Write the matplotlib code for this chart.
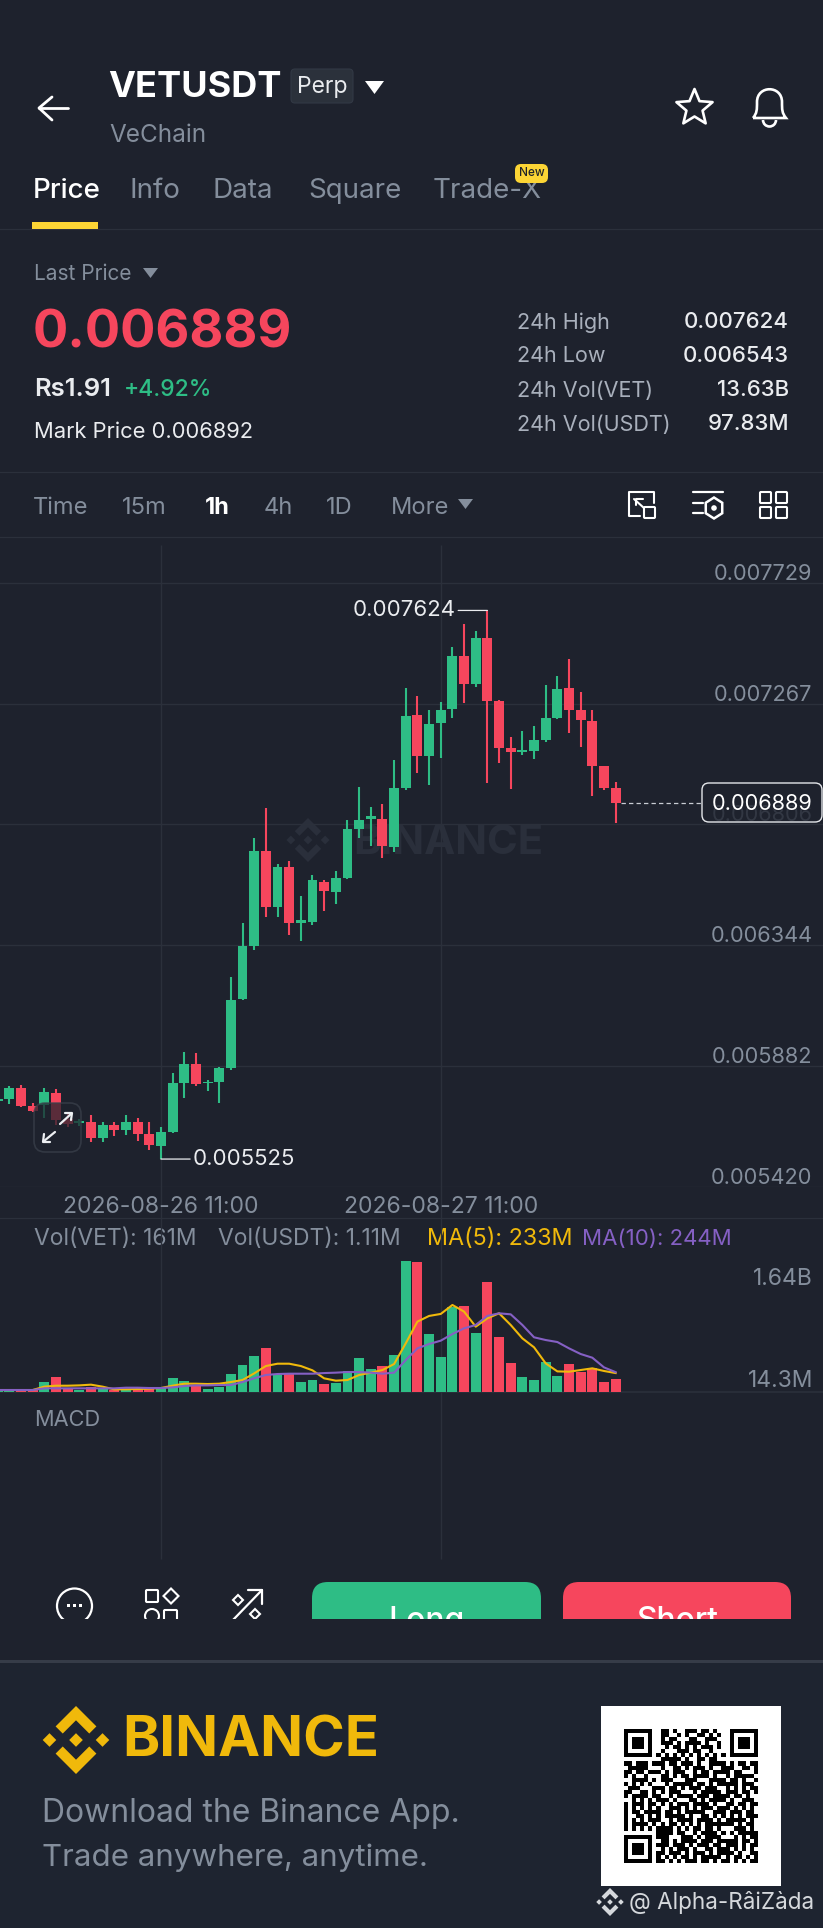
import numpy as np
import matplotlib
matplotlib.use("Agg")
import matplotlib.pyplot as plt
from matplotlib.patches import FancyBboxPatch, Polygon, Rectangle, Circle, Arc, PathPatch
from matplotlib.path import Path
from matplotlib.transforms import ScaledTranslation

plt.rcParams['font.family'] = ['Inter', 'DejaVu Sans']

# ---------- data (prices in millionths of USDT, volumes in millions of VET) ----------
opens = [5748,5753,5796,5728,5732,5779,5680,5662,5668,5606,5656,5635,5665,5621,5575,5628,5815,5887,5815,5821,5874,
         6137,6341,6702,6490,6641,6430,6433,6586,6546,6602,6789,6827,6827,6718,6946,7223,7067,7192,7248,7450,7343,
         7520,7279,7099,7081,7085,7127,7214,7326,7244,7201,7029,6945]
highs = [5763,5806,5809,5740,5796,5793,5700,5678,5693,5665,5665,5693,5681,5668,5646,5853,5934,5931,5826,5876,6221,
         6430,6755,6868,6652,6665,6530,6611,6593,6627,6821,6949,6871,6883,7052,7328,7298,7243,7275,7485,7572,7545,
         7624,7281,7141,7164,7183,7340,7374,7438,7312,7243,7029,6968]
lows = [5740,5737,5726,5706,5681,5654,5648,5653,5592,5592,5612,5618,5593,5559,5525,5625,5759,5806,5787,5740,5865,
        6134,6323,6452,6451,6383,6358,6421,6474,6502,6596,6752,6721,6677,6699,6936,7001,6955,7059,7212,7269,7330,
        6963,7042,6942,7071,7057,7122,7207,7154,7103,6914,6937,6812]
closes = [5756,5796,5729,5709,5782,5674,5660,5671,5606,5656,5637,5665,5621,5578,5628,5815,5887,5812,5820,5874,6135,
          6341,6705,6490,6643,6430,6438,6591,6549,6599,6789,6824,6836,6721,6946,7222,7067,7190,7244,7450,7341,7520,
          7278,7099,7084,7089,7127,7214,7323,7243,7204,7029,6945,6889]
volumes = [10,17,17,15,121,183,46,17,62,29,17,29,29,37,41,171,133,75,33,54,221,329,450,550,208,217,121,146,96,108,
           263,421,288,321,459,1640,1626,717,434,1063,1076,734,1376,680,359,179,146,375,196,346,250,300,117,158]
ma5 = [21,21,21,21,63,75,75,79,88,63,29,29,33,38,46,75,100,100,96,100,121,146,229,321,350,350,321,267,167,138,146,
       209,238,271,346,605,876,947,972,1084,1001,813,917,980,834,667,555,354,254,250,271,292,259,233]
ma10 = [21,21,21,21,42,42,42,42,42,42,42,50,50,46,46,54,71,79,79,83,83,121,167,209,221,225,225,225,233,238,246,246,
        238,225,238,396,542,596,638,721,792,834,947,980,967,834,680,646,621,542,471,425,304,244]
price_levels = [0.007729, 0.007267, 0.006806, 0.006344, 0.005882, 0.005420]
date_labels = ['2026-08-26 11:00', '2026-08-27 11:00']
date_index = [14, 38]
tabs = ['Price', 'Info', 'Data', 'Square', 'Trade-X']
intervals = ['Time', '15m', '1h', '4h', '1D', 'More']
stat_labels = ['24h High', '24h Low', '24h Vol(VET)', '24h Vol(USDT)']
stat_values = ['0.007624', '0.006543', '13.63B', '97.83M']
qr_rows = [
 "#######..##.#..###.##.#...#######",
 "#.....#..##..#.#..##.#.#..#.....#",
 "#.###.#..#.##...##..###...#.###.#",
 "#.###.#..###.#.####.#..#..#.###.#",
 "#.###.#...#.##.#.#.###.#..#.###.#",
 "#.....#..#...###.##..#....#.....#",
 "#######.#.#.#.#.#.#.#.#.#.#######",
 ".........#####.#..##.##..........",
 "##.###.###.##.###.#..####.#.##.##",
 ".#####...#..##.#.###.#..###..##.#",
 "##.##.###.#.###..#.##.####.##...#",
 "#.#..#...##.#.##.####.#..#.#####.",
 "..####.#.###...###...####.##.#..#",
 "#.#.#.#...#.#####.##.#.#####.###.",
 ".###...###.##.#.###.###..#.#.#.##",
 "##..##.#.#.###...#.#####.###.##.#",
 "#.####.##..#.####.###.####.##.#..",
 "..#.#.#.###.#...##.#.####.#..###.",
 "#.###.##.#.#.###.####.#..##.##.##",
 "#.#.#.#.#..###.#.#.###.###.#.#.#.",
 "#.##.####.##.#.#####..###.###.##.",
 "#..##.#.#.#####.#..##.#.#.#.#.###",
 "#.#.#.###..#.####.####.#.#####.#.",
 "#.####.#.#.##.#.#.#.#######.#.##.",
 "#.#.#.#.####.#.#.##.##.#...###.#.",
 "........####.##..#.####.#.#.#####",
 "#######.###...###.#.####...#.#.##",
 "#.....#..##.#.####.###.#####.##.#",
 "#.###.#.###.###.#.###.##.###.#.##",
 "#.###.#..#.#.###.#..##.###.#.#.#.",
 "#.###.#.##.###.#.###.#.####.#..##",
 "#.....#.#.#.#.##.#.#####.#.##.#.#",
 "#######.##.#.#.###.##.#.##.#.#.##",
]

# ---------- colours ----------
BG = '#1E222D'
FOOT = '#1E2430'
GRID = '#2B303B'
GREEN = '#2EBD85'
RED = '#F6465D'
GRAY = '#848E9C'
TXT = '#EAECEF'
YEL = '#FCD535'
GOLD = '#F0B90B'
PUR = '#8560C4'

W, H = 823, 1928
fig = plt.figure(figsize=(W/100, H/100), dpi=100, facecolor=BG)

def px_axes(top, bottom, z):
    return fig.add_axes([0, 1-bottom/H, 1, (bottom-top)/H], zorder=z)

# ---------- chrome axes in pixels ----------
ui = fig.add_axes([0, 0, 1, 1], zorder=0)
ui.set_xlim(0, W); ui.set_ylim(H, 0); ui.axis('off')
top = fig.add_axes([0, 0, 1, 1], zorder=5)
top.set_xlim(0, W); top.set_ylim(H, 0); top.axis('off'); top.patch.set_alpha(0)

def T(a, x, y, s, size, color=TXT, weight='normal', ha='left', va='center', z=3, **kw):
    return a.text(x, y+2.5, s, fontsize=size, color=color, fontweight=weight, ha=ha, va=va, zorder=z, **kw)

def rrect(a, x0, y0, x1, y1, r, fc='none', ec='none', lw=0, z=2, alpha=None):
    p = FancyBboxPatch((x0, y0), x1-x0, y1-y0, boxstyle=f"round,pad=0,rounding_size={r}",
                       fc=fc, ec=ec, lw=lw, zorder=z, alpha=alpha)
    a.add_patch(p)
    return p

def line(a, xs, ys, color=TXT, lw=1.5, z=3, **kw):
    a.plot(xs, ys, color=color, lw=lw, zorder=z, solid_capstyle=kw.pop('cap', 'round'), **kw)

def tri(a, x0, x1, y0, y1, color):
    a.add_patch(Polygon([(x0, y0), (x1, y0), ((x0+x1)/2, y1)], closed=True, fc=color, ec='none', zorder=3))

def diamond(a, cx, cy, rx, ry=None, **kw):
    ry = rx if ry is None else ry
    a.add_patch(Polygon([(cx, cy-ry), (cx+rx, cy), (cx, cy+ry), (cx-rx, cy)], closed=True, **kw))

def logo(a, cx, cy, r, color, z=2):
    diamond(a, cx, cy, .2*r, fc=color, ec='none', zorder=z)
    diamond(a, cx-.78*r, cy, .2*r, fc=color, ec='none', zorder=z)
    diamond(a, cx+.78*r, cy, .2*r, fc=color, ec='none', zorder=z)
    for s in (-1, 1):
        pts = [(0, 1), (.6, .4), (.39, .19), (0, .58), (-.39, .19), (-.6, .4)]
        a.add_patch(Polygon([(cx+px*r, cy+s*py*r) for px, py in pts], closed=True, fc=color, ec='none', zorder=z))

# footer background and separators
ui.add_patch(Rectangle((0, 1662), W, H-1662, fc=FOOT, ec='none', zorder=0))
ui.add_patch(Rectangle((0, 1660), W, 3, fc='#363C48', ec='none', zorder=1))
for yy in (229, 472, 537, 1218):
    ui.plot([0, W], [yy, yy], color=GRID, lw=0.9, zorder=1)

# header
line(ui, [39, 68], [108, 108], color='white', lw=2)
line(ui, [52, 39, 52], [97, 108, 120], color='white', lw=2)
T(ui, 108, 85, 'VETUSDT', 26, 'white', 'bold')
rrect(ui, 291, 69, 353, 103, 4, fc='#2B313B', ec='#323945', lw=0.8)
T(ui, 322, 85, 'Perp', 16.5, TXT, ha='center')
tri(ui, 365, 384, 81, 94, 'white')
T(ui, 109, 133, 'VeChain', 17.5, GRAY)
# star
ang = np.deg2rad(np.arange(0, 360, 36) - 90)
rad = np.where(np.arange(10) % 2 == 0, 19, 8.5)
ui.add_patch(Polygon(np.c_[694.5+rad*np.cos(ang), 108+rad*np.sin(ang)], closed=True, fc='none', ec='white', lw=1.9, zorder=3, joinstyle='round'))
# bell
bell = Path([(753, 118), (757, 113), (757, 110), (757, 102), (757, 85), (782, 85), (782, 102),
             (782, 110), (782, 113), (786, 118), (753, 118)],
            [Path.MOVETO, Path.CURVE4, Path.CURVE4, Path.CURVE4, Path.CURVE4, Path.CURVE4, Path.CURVE4,
             Path.CURVE4, Path.CURVE4, Path.CURVE4, Path.LINETO])
ui.add_patch(PathPatch(bell, fc='none', ec='white', lw=1.9, zorder=3))
ui.add_patch(Arc((769.5, 120), 13, 13, theta1=0, theta2=180, ec='white', lw=1.9, zorder=3))

# tabs
tab_x = [33, 130, 213, 308, 433]
for i, (s, x) in enumerate(zip(tabs, tab_x)):
    T(ui, x, 188, s, 20, 'white' if i == 0 else GRAY, '500' if i == 0 else 'normal')
ui.add_patch(Rectangle((32, 222), 66, 7, fc=YEL, ec='none', zorder=3))
rrect(ui, 515, 164, 548, 183, 6, fc=YEL, z=4)
T(ui, 531.5, 171, 'New', 8.5, '#1E2329', '500', ha='center', z=5)

# price block
T(ui, 34, 272, 'Last Price', 15, GRAY)
tri(ui, 143, 158, 268, 278, GRAY)
T(ui, 33, 331, '0.006889', 37.7, RED, 'bold')
T(ui, 34, 387, 'Rs1.91', 18.5, TXT, '600')
T(ui, 124, 387, '+4.92%', 16.5, GREEN, '500')
T(ui, 34, 430, 'Mark Price 0.006892', 15.8, TXT)
for i, yy in enumerate((320, 354, 388, 422)):
    T(ui, 517, yy, stat_labels[i], 15.5, '#A9B0BC')
    T(ui, 789, yy, stat_values[i], 16, TXT, '500', ha='right')

# interval row
int_x = [33, 122, 205, 264, 326, 391]
for s, x in zip(intervals, int_x):
    T(ui, x, 505, s, 17, 'white' if s == '1h' else GRAY, 'bold' if s == '1h' else 'normal')
tri(ui, 458, 473, 499, 509, GRAY)
# toolbar icons
line(ui, [640, 629, 629, 654, 654], [516, 516, 492, 492, 503], color='white', lw=1.5)
rrect(ui, 644, 507, 655, 518, 1, ec='white', lw=1.5, z=3)
line(ui, [634, 644], [499, 508], color='white', lw=1.5)
line(ui, [636, 636, 643], [505, 499, 499], color='white', lw=1.5)
line(ui, [693, 723], [492, 492], color='white', lw=1.6)
line(ui, [693, 703], [503, 503], color='white', lw=1.6)
line(ui, [693, 703], [513, 513], color='white', lw=1.6)
ang6 = np.deg2rad(np.arange(0, 360, 60) + 90)
ui.add_patch(Polygon(np.c_[714+9.5*np.cos(ang6), 508+10.5*np.sin(ang6)], closed=True, fc='none', ec='white', lw=1.8, zorder=3))
ui.add_patch(Circle((714, 508), 2.8, fc='white', ec='none', zorder=3))
for xx in (760, 776):
    for yy in (492, 507):
        rrect(ui, xx, yy, xx+11, yy+11, 1, ec='white', lw=1.5, z=3)

# watermark
logo(ui, 308, 840, 22, '#2A2F3B', z=1)
T(ui, 353, 840, 'BINANCE', 30, '#2A2F3B', 'bold', z=1)

# ---------- price chart ----------
PX_PER_IDX = 11.66
xlim = (2.33/PX_PER_IDX, (W+2.33)/PX_PER_IDX)
price_per_px = 3.826e-6
ax = px_axes(545, 1186.5, 1)
ax.patch.set_alpha(0)
ax.set_xlim(*xlim)
ax.set_ylim(0.005420, 0.005420 + (1186.5-545)*price_per_px)
for s in ax.spines.values():
    s.set_visible(False)

o = np.array(opens)*1e-6; h = np.array(highs)*1e-6; l = np.array(lows)*1e-6; c = np.array(closes)*1e-6
idx = np.arange(len(opens))
up = c >= o
colors = np.where(up, GREEN, RED)
ax.vlines(idx, l, h, colors=colors, lw=1.5, zorder=3)
ax.bar(idx, np.abs(c-o), bottom=np.minimum(o, c), width=0.85, color=colors, zorder=3)

ax.yaxis.tick_right()
ax.set_yticks(price_levels)
ax.set_yticklabels([f'{v:.6f}' for v in price_levels], fontsize=15.7, color=GRAY, ha='right')
ax.tick_params(axis='y', length=0, pad=-7.5)
shift = ScaledTranslation(0, 11/100, fig.dpi_scale_trans)
for lab in ax.get_yticklabels():
    lab.set_transform(lab.get_transform() + shift)
ax.set_xticks(date_index)
ax.set_xticklabels(date_labels, fontsize=16.5, color=GRAY)
ax.tick_params(axis='x', length=0, pad=7)
ax.grid(axis='y', color=GRID, lw=1, zorder=0)
ax.set_axisbelow(True)
ax.vlines(date_index, 1-(1559-545)/641.5, 1, transform=ax.get_xaxis_transform(), color=GRID, lw=1, zorder=0, clip_on=False)

# high / low callouts
hi_i = int(np.argmax(h)); lo_i = int(np.argmin(l))
ax.annotate(f'{h[hi_i]:.6f}', xy=(hi_i, h[hi_i]), xytext=(-32, 0), textcoords=('offset pixels'), color=TXT, fontsize=16,
            ha='right', va='center', arrowprops=dict(arrowstyle='-', color=TXT, lw=0.9, shrinkA=0, shrinkB=0), zorder=4)
ax.annotate(f'{l[lo_i]:.6f}', xy=(lo_i, l[lo_i]), xytext=(32, 0), textcoords=('offset pixels'), color=TXT, fontsize=16,
            ha='left', va='center', arrowprops=dict(arrowstyle='-', color=TXT, lw=0.9, shrinkA=0, shrinkB=0), zorder=4)
# last price dashed line
ax.plot([idx[-1]+0.45, 60.4], [c[-1], c[-1]], color='#C9CDD4', lw=0.9, ls=(0, (3.5, 2.5)), zorder=3)

# last price tag
rrect(top, 702, 783, 822, 822, 7, fc=BG, z=3, alpha=0.8)
rrect(top, 702, 783, 822, 822, 7, ec='#E4E6EA', lw=1, z=3.2)
top.text(762, 804, f'{c[-1]:.6f}', fontsize=15.7, color='white', ha='center', va='center', zorder=4)

# expand icon
rrect(top, 34, 1103, 81, 1152, 11, fc=BG, ec='#3B414C', lw=1.2, z=3, alpha=0.72)
line(top, [60, 71], [1124, 1114], color='#EDEFF2', lw=1.6, z=4)
line(top, [65, 72, 71], [1113, 1113, 1120], color='#EDEFF2', lw=1.6, z=4)
line(top, [44, 55], [1141, 1132], color='#EDEFF2', lw=1.6, z=4)
line(top, [44, 43, 50], [1134, 1142, 1142], color='#EDEFF2', lw=1.6, z=4)

# ---------- volume ----------
vol_scale = 12.5
vx = px_axes(1260.7, 1391.7, 2)
vx.patch.set_alpha(0)
vx.set_xlim(*xlim)
vx.set_ylim(0, 131*vol_scale)
for s in vx.spines.values():
    s.set_visible(False)
vx.bar(idx, volumes, width=0.85, color=colors, zorder=2)
vx.plot(idx, ma5, color=GOLD, lw=1.5, zorder=3, solid_joinstyle='round')
vx.plot(idx, ma10, color=PUR, lw=1.5, zorder=3, solid_joinstyle='round')
vx.set_xticks([])
vx.yaxis.tick_right()
vx.set_yticks([1637, 14.3])
vx.set_yticklabels(['1.64B', '14.3M'], fontsize=16.5, color=GRAY, ha='right')
vx.tick_params(axis='y', length=0, pad=-7)
labs = vx.get_yticklabels()
labs[0].set_transform(labs[0].get_transform() + ScaledTranslation(0, -16/100, fig.dpi_scale_trans))
labs[1].set_transform(labs[1].get_transform() + ScaledTranslation(0, 12/100, fig.dpi_scale_trans))
ui.plot([0, W], [1392, 1392], color=GRID, lw=1.2, zorder=1)

T(ui, 34, 1236, 'Vol(VET): 161M', 16.5, GRAY)
T(ui, 218, 1236, 'Vol(USDT): 1.11M', 16.5, GRAY)
T(ui, 427, 1236, 'MA(5): 233M', 16.8, GOLD)
T(ui, 582, 1236, 'MA(10): 244M', 16, PUR)
T(ui, 34, 1418, 'MACD', 15.7, GRAY)

# ---------- bottom bar (cropped) ----------
rrect(ui, 312, 1582, 541, 1650, 16, fc=GREEN, z=2)
rrect(ui, 563, 1582, 791, 1650, 16, fc=RED, z=2)
T(ui, 427, 1619, 'Long', 23, 'white', '500', ha='center', z=3)
T(ui, 677, 1619, 'Short', 23, 'white', '500', ha='center', z=3)
ui.add_patch(Circle((74.5, 1606), 17.5, fc='none', ec='white', lw=1.6, zorder=3))
for dx in (-6, 0, 6):
    ui.add_patch(Rectangle((74.5+dx-1.7, 1604), 3.4, 3.4, fc='white', ec='none', zorder=3))
rrect(ui, 146, 1590, 158, 1602, 1, ec='white', lw=1.5, z=3)
diamond(ui, 171, 1596, 7.5, fc='none', ec='white', lw=1.5, zorder=3)
ui.add_patch(Circle((152, 1616), 7, fc='none', ec='white', lw=1.5, zorder=3))
rrect(ui, 164, 1610, 177, 1630, 1, ec='white', lw=1.5, z=3)
line(ui, [233, 262], [1620, 1590], color='white', lw=1.6)
line(ui, [248, 262, 262], [1590, 1590, 1604], color='white', lw=1.6)
diamond(ui, 238, 1600, 5, fc='none', ec='white', lw=1.5, zorder=3)
diamond(ui, 255, 1614, 5, fc='none', ec='white', lw=1.5, zorder=3)
ui.add_patch(Rectangle((0, 1619), W, 41, fc=BG, ec='none', zorder=5))

# ---------- footer ----------
logo(ui, 76, 1740, 34, GOLD, z=3)
T(ui, 122, 1739, 'BINANCE', 40.5, GOLD, 'bold')
T(ui, 42, 1811, 'Download the Binance App.', 23, GRAY)
T(ui, 42, 1855, 'Trade anywhere, anytime.', 22.5, GRAY)
ui.add_patch(Rectangle((601, 1706), 180, 180, fc='white', ec='none', zorder=3))
qr = np.array([[ch == '#' for ch in r.ljust(33, '.')[:33]] for r in qr_rows], dtype=float)
ui.imshow(1-qr, cmap='gray', vmin=0, vmax=1, extent=(624, 758, 1863, 1729), interpolation='nearest', zorder=4, aspect='auto')
ui.set_xlim(0, W); ui.set_ylim(H, 0)
logo(ui, 610, 1902, 14, '#D5D8DC', z=3)
T(ui, 629, 1900, '@ Alpha-RâiZàda', 16.2, '#D5D8DC')

fig.savefig('out.png', dpi=100, facecolor=fig.get_facecolor())
